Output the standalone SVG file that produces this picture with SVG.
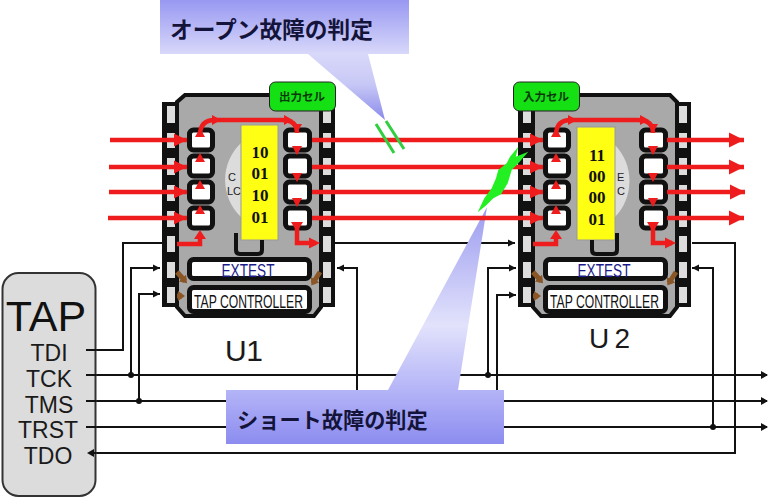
<svg xmlns="http://www.w3.org/2000/svg" width="768" height="500" viewBox="0 0 768 500">
<style>
.s{font-family:"Liberation Sans",Arial,sans-serif}
.w{fill:none;stroke:#111;stroke-width:2}
.r{fill:none;stroke:#ee1c1c;stroke-width:4.500}
.rf{fill:#ee1c1c}
.bits{font-family:"Liberation Serif","Times New Roman",serif;font-weight:bold;font-size:17px;fill:#111;text-anchor:middle}
.cj{font-family:"Noto Sans CJK JP",sans-serif;font-weight:bold}
.tl{font-size:23px;fill:#1a1a1a;text-anchor:middle}
.cell{fill:#fff;stroke:#111;stroke-width:5}
.br{fill:none;stroke:#8a5626;stroke-width:5;marker-end:url(#mb)}
.lb{fill:#14e014;stroke:#222;stroke-width:1}
.lt{font-size:11.500px;fill:#0a3a0a;text-anchor:middle}
.ext{font-size:18px;fill:#1a1a8a;text-anchor:middle}
.ctl{font-size:18px;fill:#111;text-anchor:middle}
.gy{font-size:11px;fill:#222;font-family:"Liberation Sans",sans-serif}
</style>
<defs>
<marker id="ma" markerUnits="userSpaceOnUse" markerWidth="8" markerHeight="8" refX="7" refY="4" orient="auto"><path d="M0 0.500L7 4L0 7.500z" fill="#111"/></marker>
<marker id="ms" markerUnits="userSpaceOnUse" markerWidth="16" markerHeight="16" refX="15" refY="8" orient="auto"><path d="M0 0.500L15 8L0 15.500z" fill="#ee1c1c"/></marker>
<marker id="mm" markerUnits="userSpaceOnUse" markerWidth="14" markerHeight="14" refX="13" refY="7" orient="auto"><path d="M0 0.500L13 7L0 13.500z" fill="#ee1c1c"/></marker>
<marker id="mb" markerUnits="userSpaceOnUse" markerWidth="8" markerHeight="10" refX="4" refY="5" orient="auto"><path d="M0 0L7 5L0 10z" fill="#8a5626"/></marker>
<linearGradient id="g1" x1="0" y1="0" x2="0" y2="1"><stop offset="0" stop-color="#9898f2"/><stop offset=".45" stop-color="#d8d8fa"/><stop offset=".7" stop-color="#c8c8f6"/><stop offset="1" stop-color="#8a8aec"/></linearGradient>
<linearGradient id="g2" x1="0" y1="0" x2="0" y2="1"><stop offset="0" stop-color="#9c9cf0"/><stop offset=".5" stop-color="#e2e2fc"/><stop offset=".75" stop-color="#b8b8f8"/><stop offset="1" stop-color="#8c8cf0"/></linearGradient>
<g id="chip">
<rect x="162" y="102" width="13" height="205" fill="#111"/>
<rect x="320" y="102" width="15" height="205" fill="#111"/>
<path d="M185 95H314L321 102V307L314 316H185L177 307V102Z" fill="#a9a9a9" stroke="#111" stroke-width="4"/>
<g fill="#ddd">
<rect x="167" y="106" width="8" height="17"/><rect x="167" y="133" width="8" height="15"/><rect x="167" y="158" width="8" height="17"/><rect x="167" y="185" width="8" height="16"/><rect x="167" y="211" width="8" height="16"/><rect x="167" y="236" width="8" height="16"/><rect x="167" y="262" width="8" height="16"/><rect x="167" y="287" width="8" height="16"/>
<rect x="323" y="106" width="8" height="17"/><rect x="323" y="133" width="8" height="15"/><rect x="323" y="158" width="8" height="17"/><rect x="323" y="185" width="8" height="16"/><rect x="323" y="211" width="8" height="16"/><rect x="323" y="236" width="8" height="16"/><rect x="323" y="262" width="8" height="16"/><rect x="323" y="287" width="8" height="16"/>
</g>
<rect x="189.500" y="130" width="23" height="20" rx="4" class="cell"/><rect x="189.500" y="156" width="23" height="20" rx="4" class="cell"/><rect x="189.500" y="182" width="23" height="20" rx="4" class="cell"/><rect x="189.500" y="208" width="23" height="20" rx="4" class="cell"/>
<rect x="285.500" y="130" width="24" height="20" rx="4" class="cell"/><rect x="285.500" y="156" width="24" height="20" rx="4" class="cell"/><rect x="285.500" y="182" width="24" height="20" rx="4" class="cell"/><rect x="285.500" y="208" width="24" height="20" rx="4" class="cell"/>
<rect x="189.500" y="259.500" width="120" height="19" rx="4" class="cell"/>
<rect x="189.500" y="287.500" width="120" height="24" rx="4" class="cell"/>
<path class="br" d="M177 272L185 281"/><path class="br" d="M177 296H182"/><path class="br" d="M320 272L313 283"/>
<path class="r" d="M200 135Q200 120 215 120H282Q297 120 297 133" />
<path class="r" d="M177 244H200V236"/><path class="r" d="M297 224V243H316"/>
<g class="rf">
<path d="M212 115L221 120L212 125z"/><path d="M284 115L293 120L284 125z"/>
<path d="M200 128L205 137H195z"/><path d="M200 153L205 162H195z"/><path d="M200 180L205 189H195z"/><path d="M200 205L205 214H195z"/><path d="M200 230L206 239H194z"/>
<path d="M297 133L292 124H302z"/><path d="M297 155L292 146H302z"/><path d="M297 182L292 173H302z"/><path d="M297 207L292 198H302z"/><path d="M297 232L291 222H303z"/>
<path d="M320 243L309 237.500V248.500z"/>
</g>
</g>
</defs>
<rect width="768" height="500" fill="#fff"/>
<g id="connectors">
<g class="w">
<path d="M86 350H123V243H515" marker-end="url(#ma)"/>
<path d="M86 375H767"/><path d="M86 401H767"/><path d="M86 427H767"/>
<path d="M131 375V268H160" marker-end="url(#ma)"/><path d="M139 401V294H160" marker-end="url(#ma)"/>
<path d="M488 375V268H516" marker-end="url(#ma)"/><path d="M497 401V295H516" marker-end="url(#ma)"/>
<path d="M357 427V268H337" marker-end="url(#ma)"/><path d="M713 427V268H692" marker-end="url(#ma)"/>
<path d="M692 243H735V453H87" marker-end="url(#ma)"/>
</g>
<g fill="#111"><circle cx="131" cy="375" r="3"/><circle cx="139" cy="401" r="3"/><circle cx="488" cy="375" r="3"/><circle cx="357" cy="427" r="3"/><circle cx="713" cy="427" r="3"/>
<path d="M761 371L768 375L761 379z"/><path d="M761 397L768 401L761 405z"/><path d="M761 423L768 427L761 431z"/></g>
</g>
<g id="U1">
<use href="#chip"/>
<path d="M241 143A51 51 0 0 0 241 217Z" fill="#dcdcdc"/>
<text x="228" y="181" class="gy">C</text><text x="227" y="195" class="gy">LC</text>
<rect x="241" y="125" width="37" height="115" fill="#ffff14" stroke="#999" stroke-width="1"/>
<path d="M236 233V250Q236 254 240 254H258Q262 254 262 250V240" fill="none" stroke="#111" stroke-width="4"/>
<text x="260" y="158" class="bits">10</text><text x="260" y="179" class="bits">01</text><text x="260" y="201" class="bits">10</text><text x="260" y="223" class="bits">01</text>
<text x="248" y="277" class="ext s" textLength="53" lengthAdjust="spacingAndGlyphs">EXTEST</text>
<text x="248.500" y="308" class="ctl s" textLength="109" lengthAdjust="spacingAndGlyphs">TAP CONTROLLER</text>
<text x="225" y="361" class="s" font-size="30" fill="#1a1a1a" textLength="38">U1</text>
</g>
<g id="U2">
<use href="#chip" x="356"/>
<path d="M615 145A52 52 0 0 1 615 217Z" fill="#dcdcdc"/>
<text x="617" y="181" class="gy">E</text><text x="617" y="195" class="gy">C</text>
<rect x="577" y="127" width="38" height="113" fill="#ffff14" stroke="#999" stroke-width="1"/>
<path d="M592 240V250Q592 254 596 254H613Q617 254 617 250V233" fill="none" stroke="#111" stroke-width="4"/>
<text x="597" y="161" class="bits">11</text><text x="597" y="182" class="bits">00</text><text x="597" y="203" class="bits">00</text><text x="597" y="225" class="bits">01</text>
<text x="604" y="277" class="ext s" textLength="53" lengthAdjust="spacingAndGlyphs">EXTEST</text>
<text x="604.500" y="308" class="ctl s" textLength="109" lengthAdjust="spacingAndGlyphs">TAP CONTROLLER</text>
<text x="589" y="348" class="s" font-size="28" fill="#1a1a1a" textLength="41">U2</text>
</g>
<g id="TAP">
<rect x="2.500" y="273" width="93" height="223" rx="16" fill="#dcdcdc" stroke="#333" stroke-width="2"/>
<text x="46" y="331" class="s" font-size="43" fill="#111" text-anchor="middle">TAP</text>
<text x="49" y="361" class="s tl">TDI</text><text x="49" y="387" class="s tl">TCK</text><text x="49" y="413" class="s tl">TMS</text><text x="48" y="438" class="s tl">TRST</text><text x="48" y="464" class="s tl">TDO</text>
<path d="M86 350H96M86 375H96M86 401H96M86 427H96" stroke="#111" stroke-width="2"/>
<path d="M87 453L94 449V457z" fill="#111"/><path d="M94 453H96" stroke="#111" stroke-width="2"/>
</g>
<g id="callout-short">
<path d="M226 390H388L487 207L458 390H504V444H226Z" fill="url(#g2)"/>
<text x="237" y="428" class="cj" font-size="21.200" fill="#14143a">ショート故障の判定</text>
</g>
<g id="callout-open">
<path d="M160 0H409V54H368L385 120L308 54H160Z" fill="url(#g1)"/>
<text x="170" y="38" class="cj" font-size="22.700" fill="#14143a">オープン故障の判定</text>
</g>
<g id="signals">
<path class="r" d="M110 140H187" marker-end="url(#mm)"/><path class="r" d="M109 167H187" marker-end="url(#mm)"/><path class="r" d="M109 192H187" marker-end="url(#mm)"/><path class="r" d="M108 218H187" marker-end="url(#mm)"/>
<path class="r" d="M312 140H543" marker-end="url(#mm)"/><path class="r" d="M312 167H543" marker-end="url(#mm)"/><path class="r" d="M312 192H543" marker-end="url(#mm)"/><path class="r" d="M312 218H543" marker-end="url(#mm)"/>
<path class="r" d="M667 140H744" marker-end="url(#ms)"/><path class="r" d="M667 167H744" marker-end="url(#ms)"/><path class="r" d="M667 192H745" marker-end="url(#ms)"/><path class="r" d="M667 218H744" marker-end="url(#ms)"/>
</g>
<g id="open-fault">
<path d="M376 124L394 153M386 121L404 149" stroke="#2fcf3f" stroke-width="3" fill="none"/>
</g>
<g id="short-fault">
<path d="M477.700 212.300L484.300 198.300L491.700 188.300L496 178.300L498.300 170L506.700 163.300L510 156.700L518.300 146.700L515.700 156.700L528.300 151.700L518.300 163.300L511.700 170L507.700 183.300L501 194.300L493.300 198.300L485.700 205.700Z" fill="#22f022"/>
</g>
<g id="label-out"><rect x="269.500" y="82" width="66" height="29" rx="6" class="lb"/><text x="302" y="101" class="cj lt">出力セル</text></g>
<g id="label-in"><rect x="513.500" y="82" width="66" height="29" rx="6" class="lb"/><text x="546" y="101" class="cj lt">入力セル</text></g>
</svg>
